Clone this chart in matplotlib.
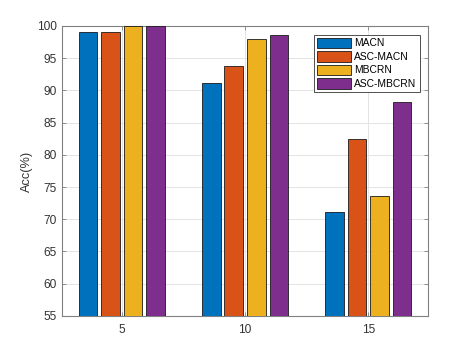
import numpy as np
import matplotlib
matplotlib.use("Agg")
import matplotlib.pyplot as plt

plt.rcParams['font.family'] = ['Liberation Sans', 'DejaVu Sans']

groups = [5, 10, 15]
series = ['MACN', 'ASC-MACN', 'MBCRN', 'ASC-MBCRN']
macn = [99.1, 91.1, 71.2]
asc_macn = [99.1, 93.8, 82.4]
mbcrn = [99.95, 97.9, 73.6]
asc_mbcrn = [100.0, 98.6, 88.2]
values = [macn, asc_macn, mbcrn, asc_mbcrn]
colors = ['#0072BD', '#D95319', '#EDB120', '#7E2F8E']

fig = plt.figure(figsize=(4.74, 3.55), dpi=100)
ax = fig.add_axes([0.130, 0.110, 0.774, 0.817])

offsets = [-1.37, -0.46, 0.46, 1.37]
width = 0.75
x = np.array(groups, dtype=float)
for vals, off, c, name in zip(values, offsets, colors, series):
    ax.bar(x + off, np.array(vals) - 55, width=width, bottom=55, color=c,
           edgecolor='#1a1a1a', linewidth=0.6, label=name, zorder=3)

ax.set_xlim(2.56, 17.44)
ax.set_ylim(55, 100)
ax.set_xticks(groups)
ax.set_yticks(np.arange(55, 101, 5))
ax.grid(True, color='#e3e3e3', linewidth=0.7, zorder=0)
ax.set_axisbelow(True)

axis_col = '#808080'
for s in ax.spines.values():
    s.set_color(axis_col)
    s.set_linewidth(0.8)
ax.tick_params(direction='in', length=3, width=0.6, color=axis_col,
               labelsize=8.6, labelcolor='#333333', top=True, right=True)
ax.tick_params(axis='y', pad=3.6)
ax.tick_params(axis='x', pad=6)
ax.set_ylabel('Acc(%)', fontsize=9.2, color='#333333', labelpad=3)

leg = ax.legend(loc='upper right', fontsize=7.4, frameon=True, fancybox=False,
                edgecolor='#333333', framealpha=1, borderaxespad=0.85,
                handlelength=3.3, handleheight=1.2, handletextpad=0.3,
                labelspacing=0.27, borderpad=0.3)
leg.get_frame().set_linewidth(0.6)

fig.savefig('out.png', dpi=100)
